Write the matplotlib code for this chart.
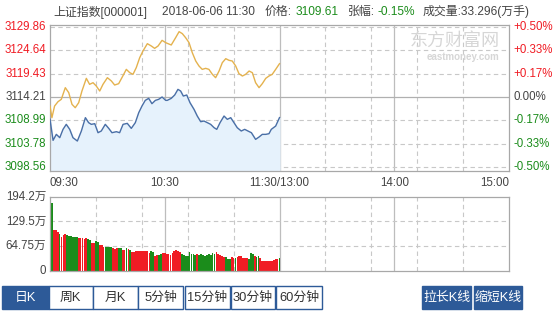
import matplotlib
matplotlib.use("Agg")
import matplotlib.pyplot as plt
import matplotlib.transforms as mtransforms
from matplotlib.patches import Rectangle

plt.rcParams["font.family"] = ["Liberation Sans", "Noto Sans CJK SC"]

# price axis levels and labels
price_levels = [3129.86, 3124.64, 3119.43, 3114.21, 3108.99, 3103.78, 3098.56]
pct_labels = ["+0.50%", "+0.33%", "+0.17%", "0.00%", "-0.17%", "-0.33%", "-0.50%"]
time_ticks = [0, 60, 120, 180, 240]
time_labels = ["09:30", "10:30", "11:30/13:00", "14:00", "15:00"]
vol_levels = [0, 64.75, 129.5, 194.2]
vol_labels = ["0", "64.75万", "129.5万", "194.2万"]

# price line (minutes after 09:30)
price_min = [0, 1.6, 3.3, 5.1, 6.8, 8.5, 10.3, 12.0, 14.3, 16.4, 18.5, 20.2, 21.6,
             23.4, 25.1, 26.8, 28.9, 30.7, 32.4, 34.7, 36.4, 38.2, 40.4, 42.5, 44.6,
             46.4, 48.1, 49.8, 51.6, 53.3, 55.1, 56.8, 58.6, 60.5, 61.3, 63.4, 65.2,
             66.9, 68.3, 69.7, 71.5, 73.2, 75.3, 77.0, 78.8, 80.5, 82.3, 84.0, 85.8,
             87.2, 88.9, 91.0, 92.7, 94.5, 96.2, 97.9, 100.0, 101.8, 103.5, 105.3,
             107.5, 109.3, 111.0, 112.8, 114.5, 115.7, 118.0, 120]
price_val = [3109.22, 3104.52, 3105.86, 3105.12, 3106.98, 3108.10, 3106.98, 3105.12,
             3104.37, 3106.61, 3109.59, 3108.47, 3108.10, 3108.25, 3106.23, 3106.61,
             3108.10, 3107.20, 3106.23, 3106.46, 3106.23, 3108.10, 3108.32, 3107.20,
             3108.47, 3110.71, 3112.20, 3113.46, 3113.91, 3112.72, 3113.46, 3113.69,
             3114.21, 3113.46, 3113.46, 3113.91, 3114.66, 3115.92, 3115.55, 3114.43,
             3114.66, 3112.94, 3111.45, 3109.96, 3108.69, 3108.84, 3108.47, 3108.10,
             3107.35, 3106.98, 3108.47, 3109.96, 3109.22, 3109.59, 3108.47, 3107.35,
             3106.61, 3106.98, 3106.61, 3106.23, 3104.74, 3105.27, 3105.86, 3105.86,
             3106.01, 3106.98, 3107.72, 3109.61]

# yellow line
avg_min = [0, 1.0, 2.4, 4.2, 5.9, 8.0, 9.8, 11.5, 13.2, 15.0, 16.7, 19.0, 20.7, 22.5,
           24.2, 26.0, 27.7, 30.0, 32.1, 33.8, 35.9, 37.6, 39.9, 41.7, 43.4, 45.1,
           46.9, 48.6, 50.9, 53.0, 54.7, 56.5, 58.6, 60.5, 61.3, 63.4, 65.7, 67.5,
           69.2, 70.9, 72.7, 74.4, 76.2, 77.9, 79.6, 81.4, 83.1, 84.9, 86.6, 88.4,
           90.1, 91.9, 93.6, 95.3, 97.1, 98.8, 100.6, 102.3, 104.1, 105.8, 107.5,
           109.3, 111.0, 112.8, 114.5, 116.2, 118.0, 120]
avg_val = [3112.20, 3109.59, 3112.20, 3113.17, 3113.69, 3116.30, 3115.18, 3112.57,
           3111.82, 3112.94, 3115.55, 3118.38, 3117.04, 3117.41, 3116.67, 3115.55,
           3117.04, 3118.53, 3117.79, 3116.89, 3117.19, 3118.53, 3120.39, 3119.65,
           3119.28, 3120.77, 3123.00, 3124.49, 3126.13, 3125.61, 3125.09, 3125.61,
           3126.88, 3126.36, 3126.21, 3125.84, 3127.48, 3128.82, 3128.37, 3127.48,
           3126.36, 3124.12, 3122.26, 3121.14, 3120.39, 3120.62, 3120.39, 3119.28,
           3118.53, 3120.02, 3121.89, 3122.78, 3122.41, 3122.26, 3121.14, 3119.43,
           3118.90, 3119.28, 3120.02, 3119.65, 3117.41, 3116.30, 3117.19, 3118.38,
           3118.90, 3119.28, 3120.39, 3121.66]

# volume per minute (万手) and up/down flag
volume = [177, 107, 106, 101, 98, 90, 94, 96, 94, 92, 91, 90, 90, 89, 85, 86, 85, 84,
          87, 83, 82, 72, 72, 78, 77, 68, 67, 64, 64, 63, 64, 62, 59, 58, 60, 61, 60,
          55, 54, 59, 57, 55, 49, 50, 52, 53, 52, 52, 53, 51, 52, 48, 52, 50, 40, 41,
          43, 44, 46, 46, 45, 44, 42, 46, 53, 55, 52, 49, 44, 43, 40, 38, 49, 44, 45,
          43, 44, 42, 44, 43, 40, 41, 44, 42, 46, 45, 50, 44, 43, 38, 37, 36, 31, 32,
          37, 35, 34, 37, 40, 38, 35, 34, 33, 32, 46, 44, 40, 37, 40, 34, 26, 27, 26,
          27, 27, 26, 30, 31, 32, 33]
updown = list("grrrgrrrggggggrrrrrggrrggrrrggggrrrggrrgrgrrrrrrrrrrggrrggrrrrrrrrrrgggg"
              "ggggrgggggggggrrrrrgggrrgrrrrrrgggrggrrrrrrrrrr")

RED = "#f01c24"
GREEN = "#1b8c1b"
GRAY_TXT = "#444444"
GRID = "#c8c8c8"
FRAME = "#a8a8a8"
BLUE = "#2d5a98"

fig = plt.figure(figsize=(5.59, 3.12), dpi=100)
W, H = 559, 312


def px_axes(x0, y0, x1, y1):
    return fig.add_axes([x0 / W, 1 - y1 / H, (x1 - x0) / W, (y1 - y0) / H])


def style(ax):
    for s in ax.spines.values():
        s.set_color(FRAME)
        s.set_linewidth(0.9)
    ax.set_xticks([])
    ax.set_yticks([])
    ax.set_xlim(0, 240)
    for m in [24, 48, 72, 96, 144, 168, 192, 216]:
        ax.axvline(m, color=GRID, lw=0.8, ls=(0, (4, 3)), zorder=0)
    for m in [60, 120, 180]:
        ax.axvline(m, color="#bdbdbd", lw=0.9, zorder=0)


# main price chart
ax = px_axes(50, 24.5, 509, 171)
style(ax)
ax.set_ylim(3097.67, 3130.42)
for i, lv in enumerate(price_levels):
    if i == 3:
        ax.axhline(lv, color="#b0b0b0", lw=0.9, zorder=0)
    else:
        ax.axhline(lv, color=GRID, lw=0.8, ls=(0, (4, 3)), zorder=0)
ax.fill_between(price_min, price_val, 3097.67, color="#e6f2fc", zorder=1)
ax.plot(avg_min, avg_val, color="#e4b24e", lw=1.0, zorder=3)
ax.plot(price_min, price_val, color="#4a6fa6", lw=1.0, zorder=3)

tr_y = mtransforms.blended_transform_factory(ax.transAxes, ax.transData)
for i, (lv, pl) in enumerate(zip(price_levels, pct_labels)):
    c = RED if i < 3 else (GRAY_TXT if i == 3 else GREEN)
    ax.text(-0.008, lv, f"{lv:.2f}", transform=tr_y, ha="right", va="center",
            fontsize=8.3, color=c)
    ax.text(1.009, lv, pl, transform=tr_y, ha="left", va="center",
            fontsize=8.3, color=c)

tr_x = mtransforms.blended_transform_factory(ax.transData, ax.transAxes)
for i, (m, lab) in enumerate(zip(time_ticks, time_labels)):
    ha = "left" if i == 0 else ("right" if i == len(time_ticks) - 1 else "center")
    ax.text(m, -0.08, lab, transform=tr_x, ha=ha, va="center", fontsize=8.3,
            color=GRAY_TXT)

# watermark
ax.text(0.98, 0.885, "东方财富网", transform=ax.transAxes, ha="right", va="center",
        fontsize=13, color="#d6d6d6", zorder=2)
ax.text(0.98, 0.78, "eastmoney.com", transform=ax.transAxes, ha="right",
        va="center", fontsize=7, fontweight="bold", color="#d6d6d6", zorder=2)

# volume chart
axv = px_axes(50, 196.7, 509, 271)
style(axv)
axv.set_ylim(0, 194.2)
for lv in vol_levels[1:3]:
    axv.axhline(lv, color=GRID, lw=0.8, ls=(0, (4, 3)), zorder=0)
bar_x = list(range(1, len(volume) + 1))
bar_c = [RED if c == "r" else GREEN for c in updown]
axv.bar(bar_x, volume, width=0.92, color=bar_c, linewidth=0, zorder=2)
trv = mtransforms.blended_transform_factory(axv.transAxes, axv.transData)
for lv, lab in zip(vol_levels, vol_labels):
    axv.text(-0.008, lv, lab, transform=trv, ha="right", va="center",
             fontsize=8.3, color=GRAY_TXT)

# overlay in pixel coordinates for header and buttons
ui = fig.add_axes([0, 0, 1, 1], zorder=5)
ui.set_xlim(0, W)
ui.set_ylim(H, 0)
ui.axis("off")
ui.patch.set_alpha(0)

header = [
    (53, "上证指数[000001]", GRAY_TXT),
    (162, "2018-06-06 11:30", GRAY_TXT),
    (265, "价格:", GRAY_TXT),
    (296, "3109.61", GREEN),
    (348, "张幅:", GRAY_TXT),
    (377, "-0.15%", GREEN),
    (423, "成交量:33.296(万手)", GRAY_TXT),
]
for x, s, c in header:
    ui.text(x, 12, s, ha="left", va="center", fontsize=8.6, color=c)

buttons = [
    (1.5, 48.5, "日K", True),
    (48.5, 93, "周K", False),
    (93, 138, "月K", False),
    (138, 183, "5分钟", False),
    (184.5, 230, "15分钟", False),
    (231, 275, "30分钟", False),
    (276, 322, "60分钟", False),
    (422, 471, "拉长K线", True),
    (474, 522, "缩短K线", True),
]
by0, by1 = 286, 309
for x0, x1, lab, filled in buttons:
    ui.add_patch(Rectangle((x0, by0), x1 - x0, by1 - by0, facecolor=BLUE if filled else "white",
                           edgecolor=BLUE, lw=1.0))
    ui.text((x0 + x1) / 2, (by0 + by1) / 2, lab, ha="center", va="center",
            fontsize=9.3, color="white" if filled else "#333333")

fig.savefig("out.png", dpi=100)
